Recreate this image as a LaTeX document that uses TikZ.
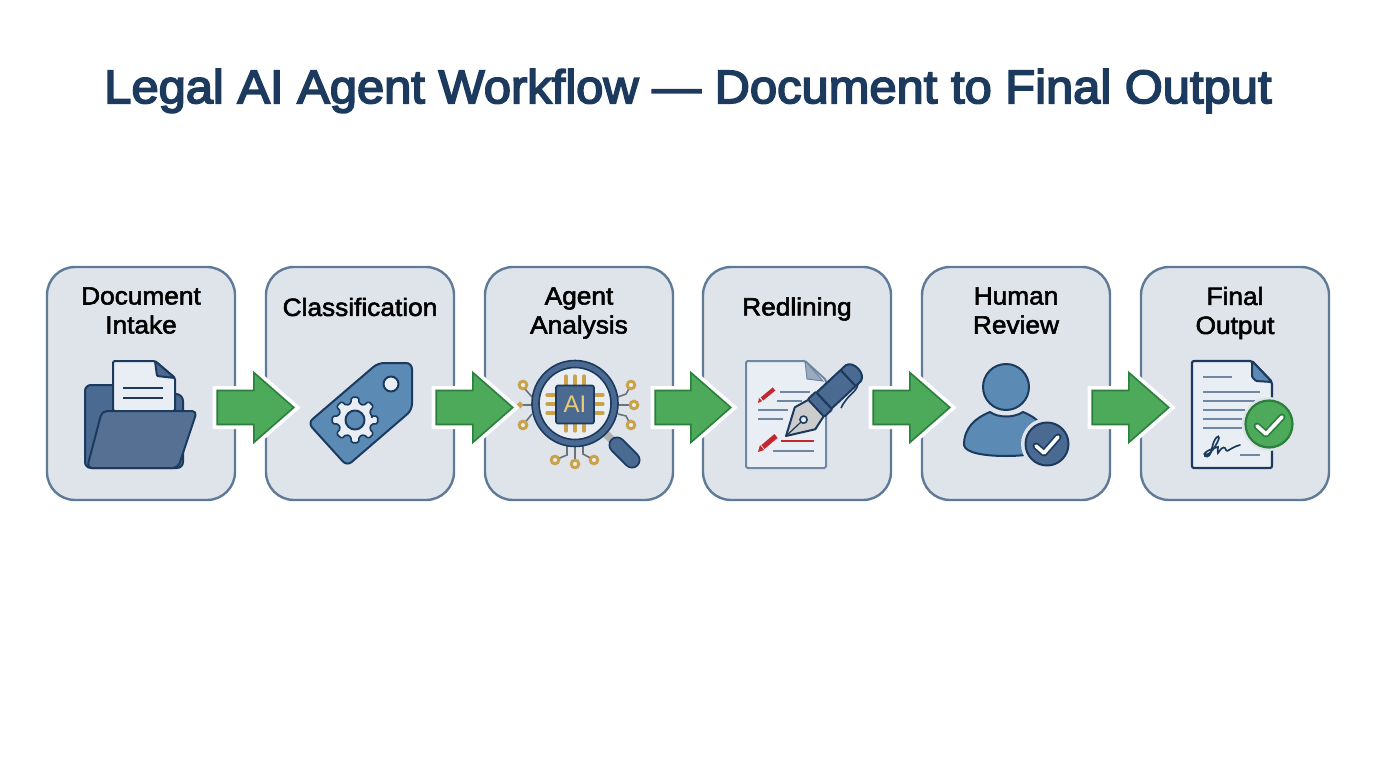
\documentclass[tikz,border=0pt]{standalone}
\usepackage{fontspec}
\usetikzlibrary{calc}
\setmainfont{Liberation Sans}
\newfontfamily\stepfont[RawFeature={embolden=2.2;extend=1.05}]{Liberation Sans}
\newfontfamily\headfont[RawFeature={embolden=3.6;extend=1.04}]{Liberation Sans}

\definecolor{navy}{HTML}{1B3A5E}
\definecolor{cardfill}{HTML}{DFE4EB}
\definecolor{cardedge}{HTML}{5F7A96}
\definecolor{steelblue}{HTML}{5B8AB5}
\definecolor{slateblue}{HTML}{4A6A92}
\definecolor{folderfront}{HTML}{557093}
\definecolor{paleblue}{HTML}{E9EEF4}
\definecolor{greyline}{HTML}{6F87A3}
\definecolor{arrowgreen}{HTML}{4CAA5A}
\definecolor{arrowedge}{HTML}{2A7F3C}
\definecolor{goldpin}{HTML}{C9A24A}
\definecolor{goldtext}{HTML}{EBCB78}
\definecolor{redmark}{HTML}{C4282F}

\tikzset{
	stepcard/.style={draw=cardedge, fill=cardfill, line width=2.4pt, rounded corners=28pt, minimum width=188pt, minimum height=233pt, inner sep=0pt},
	steplabel/.style={font=\stepfont\fontsize{25}{29}\selectfont, text=black, align=center, inner sep=0pt},
	flowarrow/.style={fill=arrowgreen, draw=arrowedge, line width=1.6pt, line join=miter},
	flowhalo/.style={fill=white, draw=white, line width=9pt, line join=miter},
	iconline/.style={draw=navy, line width=2pt, line join=round},
	textline/.style={draw=greyline, line width=2.2pt},
	traceline/.style={draw=gray!80!navy, line width=1.6pt},
	tracepad/.style={draw=goldpin, fill=paleblue, line width=3pt},
	chippin/.style={draw=goldpin, line width=3.2pt, line cap=round},
}

% block arrow from one card to the next, 24 below their middle
\newcommand{\flowstep}[2]{
	\coordinate (s) at ($(#1.east)+(-19,24)$);
	\coordinate (e) at ($(#2.west)+(29,24)$);
	\foreach \look in {flowhalo,flowarrow}{
		\path[\look] ($(s)+(0,-17)$) -- ($(e)+(-40,-17)$) -- ($(e)+(-40,-35)$) -- (e) -- ($(e)+(-40,35)$) -- ($(e)+(-40,17)$) -- ($(s)+(0,17)$) -- cycle;
	}
}
% check mark with a dark edge
\newcommand{\tickmark}[4]{
	\draw[#4, line width=7pt, line cap=round, line join=round] #1 -- #2 -- #3;
	\draw[white, line width=3.6pt, line cap=round, line join=round] #1 -- #2 -- #3;
}

\begin{document}
\begin{tikzpicture}[x=1pt,y=1pt,yscale=-1,xscale=1]
	\useasboundingbox (0,0) rectangle (1376,768);

	% Title
	\node[font=\headfont\fontsize{47}{54}\selectfont, text=navy, inner sep=0pt] (title) at (688,91) {Legal AI Agent Workflow — Document to Final Output};

	% The six cards
	\node[stepcard] (intake) at (141,383.5) {};
	\node[stepcard] (classify) at (360,383.5) {};
	\node[stepcard] (analysis) at (579,383.5) {};
	\node[stepcard] (redline) at (797,383.5) {};
	\node[stepcard] (review) at (1016,383.5) {};
	\node[stepcard] (final) at (1235,383.5) {};

	% The card labels
	\node[steplabel] (intakelabel) at (141,310.5) {Document\\Intake};
	\node[steplabel] (classifylabel) at (360,307) {Classification};
	\node[steplabel] (analysislabel) at (579,313) {Agent\\Analysis};
	\node[steplabel] (redlinelabel) at (797,309) {Redlining};
	\node[steplabel] (reviewlabel) at (1016,310.5) {Human\\Review};
	\node[steplabel] (finallabel) at (1235,313) {Final\\Output};

	% Folder with a sheet
	\draw[iconline, fill=slateblue, rounded corners=6pt] (85,468) -- (85,385) -- (116,385) -- (183,395) -- (183,468) -- cycle;
	\draw[iconline, fill=paleblue, rounded corners=1.5pt] (113,411) -- (113,361) -- (155,361) -- (175,378) -- (175,411) -- cycle;
	\draw[iconline, fill=slateblue, rounded corners=1pt] (155,361) -- (157,376) -- (175,378) -- cycle;
	\draw[navy, line width=1.8pt] (123,388) -- (163,388);
	\draw[navy, line width=1.8pt] (123,398) -- (163,398);
	\draw[iconline, fill=folderfront, rounded corners=5pt] (102,411) -- (197,411) -- (178,468) -- (87,468) -- cycle;

	% Tag with a gear
	\draw[iconline, fill=steelblue, rounded corners=6pt] (378,363) -- (412,363) -- (412,410) -- (347,466) -- (308,423) -- cycle;
	\draw[iconline, fill=paleblue] (391,384) circle (7.5);
	\begin{scope}[shift={(355,420)}]
		\draw[iconline, fill=paleblue, line width=1.6pt, rounded corners=1.5pt] (-13:17) \foreach \a in {0,45,...,315}{ -- (\a-14:17) -- (\a-9:23) -- (\a+9:23) -- (\a+14:17) } -- cycle;
		\draw[iconline, fill=steelblue] (0,0) circle (9.5);
	\end{scope}

	% Circuit traces round the lens
	\draw[traceline] (523,385) -- (525,389) -- (532,397);
	\draw[traceline] (520,405) -- (535,405);
	\draw[traceline] (523,425) -- (532,414);
	\draw[traceline] (631,385) -- (626,394) -- (618,397);
	\draw[traceline] (634,405) -- (618,405);
	\draw[traceline] (631,425) -- (626,416) -- (618,414);
	\draw[traceline] (567,445) -- (567,455) -- (555,460);
	\draw[traceline] (575,445) -- (575,464);
	\draw[traceline] (583,445) -- (583,454) -- (594,460);
	\foreach \p in {(523,385),(523,425),(631,385),(634,405),(631,425),(555,460),(575,464),(594,460)}{
		\draw[tracepad] \p circle (3.8);
	}
	\draw[tracepad] (520,405) circle (1.5);

	% Handle of the lens
	\draw[gray!60, line width=8pt] (604,432) -- (613,441);
	\draw[navy, line width=17pt, line cap=round] (617,445) -- (632,460);
	\draw[slateblue, line width=13.4pt, line cap=round] (617,445) -- (632,460);

	% Lens and chip
	\draw[navy, fill=slateblue, line width=1.6pt] (575,403.5) circle (43);
	\draw[navy, fill=paleblue, line width=1.6pt] (575,403.5) circle (36);
	\foreach \k in {566,575,584}{
		\draw[chippin] (\k,376) -- (\k,431);
	}
	\foreach \k in {395,404,413}{
		\draw[chippin] (547,\k) -- (603,\k);
	}
	\node[draw=navy, fill=slateblue, line width=1.6pt, rounded corners=2pt, minimum size=38pt, inner sep=0pt, text=goldtext, font=\fontsize{24}{24}\selectfont] (chip) at (575,404.5) {AI};

	% Sheet with red marks
	\draw[greyline, fill=paleblue, line width=2pt, rounded corners=1.5pt] (746,361) -- (805,361) -- (826,380) -- (826,468) -- (746,468) -- cycle;
	\draw[greyline, fill=greyline!70!white, line width=1pt] (805,361) -- (807,379) -- (823,381) -- cycle;
	\draw[textline] (780,392) -- (810,392);
	\draw[textline] (777,401) -- (802,401);
	\draw[textline] (758,410) -- (788,410);
	\draw[textline] (758,419) -- (783,419);
	\draw[textline] (773,451) -- (814,451);
	\draw[redmark, line width=2.2pt] (781,441) -- (814,441);
	\draw[redmark, line width=4pt] (762,399) -- (774,389);
	\fill[redmark] (758,403) -- (759,398) -- (762,401) -- cycle;
	\draw[redmark, line width=5pt] (763,447) -- (776,436);
	\fill[redmark] (758,452) -- (760,445) -- (764,450) -- cycle;

	% Pen, along its own axis from the tip
	\draw[navy, line width=1.6pt] (858,381) .. controls (859,390) and (850,394) .. (846,400) .. controls (844,403) and (842,405) .. (841,408);
	\begin{scope}[shift={(786,436)},rotate=-43]
		\draw[iconline, fill=gray!40] (0,0) -- (26,-15) -- (42,-11) -- (42,11) -- (26,15) -- cycle;
		\draw[navy, line width=1.2pt] (0,0) -- (22,0);
		\draw[iconline, fill=paleblue, line width=1.6pt] (24,0) circle (3.6);
		\draw[iconline, fill=slateblue, rounded corners=1pt] (41,-12) -- (52,-12) -- (52,12) -- (41,12) -- cycle;
		\draw[iconline, fill=slateblue, rounded corners=1pt] (52,-11) -- (85,-11) -- (85,11) -- (52,11) -- cycle;
		\draw[iconline, fill=slateblue] (85,-11) -- (92,-11) .. controls (101,-9) and (101,9) .. (92,11) -- (85,11) -- cycle;
	\end{scope}

	% Person with a check badge
	\draw[iconline, fill=steelblue] (1006,387) circle (23);
	\draw[iconline, fill=steelblue] (964,445) .. controls (964,428) and (975,418) .. (990,412) .. controls (998,418) and (1014,418) .. (1023,412) .. controls (1038,418) and (1048,428) .. (1048,445) .. controls (1046,452) and (1030,456) .. (1006,456) .. controls (985,456) and (965,453) .. (964,445) -- cycle;
	\fill[cardfill] (1047,444) circle (26);
	\draw[iconline, fill=slateblue] (1047,444) circle (21.5);
	\tickmark{(1036,446)}{(1044,453)}{(1058,437)}{navy}

	% Signed sheet with a check badge
	\draw[navy, fill=paleblue, line width=2.2pt, rounded corners=2pt] (1192,361) -- (1252,361) -- (1272,382) -- (1272,468) -- (1192,468) -- cycle;
	\draw[iconline, fill=steelblue, rounded corners=1pt] (1252,361) -- (1252,377) -- (1256,381) -- (1272,382) -- cycle;
	\draw[textline] (1203,377) -- (1232,377);
	\draw[textline] (1203,392) -- (1260,392);
	\draw[textline] (1203,401) -- (1255,401);
	\draw[textline] (1203,410) -- (1245,410);
	\draw[textline] (1203,419) -- (1242,419);
	\draw[textline] (1203,428) -- (1242,428);
	\draw[textline] (1240,455) -- (1260,455);
	\draw[navy, line width=1.7pt, line cap=round] (1204,454) .. controls (1210,458) and (1218,442) .. (1219,438) .. controls (1219,434) and (1214,438) .. (1212,448) .. controls (1211,455) and (1208,458) .. (1205,456) .. controls (1202,453) and (1210,449) .. (1218,447) .. controls (1218,450) and (1217,453) .. (1218,453) .. controls (1220,450) and (1223,446) .. (1225,448) .. controls (1226,450) and (1226,452) .. (1229,450) .. controls (1232,448) and (1236,446) .. (1240,445);
	\fill[cardfill] (1269,424) circle (27);
	\draw[fill=arrowgreen, draw=arrowedge, line width=2.2pt] (1269,424) circle (23.5);
	\tickmark{(1257,426)}{(1266,434)}{(1282,417)}{arrowedge}

	% Block arrows between the cards
	\flowstep{intake}{classify}
	\flowstep{classify}{analysis}
	\flowstep{analysis}{redline}
	\flowstep{redline}{review}
	\flowstep{review}{final}
\end{tikzpicture}
\end{document}
